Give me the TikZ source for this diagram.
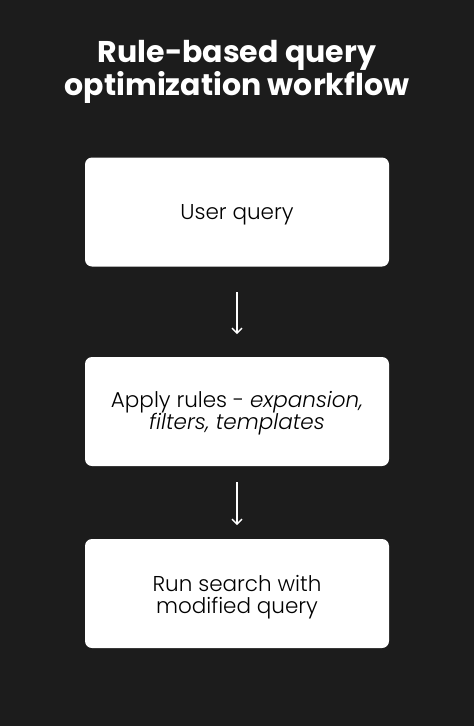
\documentclass[tikz,border=0pt]{standalone}
\usepackage{fontspec}
\setmainfont{Poppins}[FontFace={l}{n}{Poppins Light},FontFace={l}{it}{Poppins Light Italic}]
\usetikzlibrary{arrows.meta}
\definecolor{bg}{HTML}{1C1C1C}
\tikzset{
  stepbox/.style={draw=none, fill=white, rounded corners=7pt, minimum width=304pt, minimum height=109pt, inner sep=0pt},
  steptext/.style={align=center, text=black, font=\fontsize{21.5}{22}\selectfont\fontseries{l}\selectfont, inner sep=0pt},
  flowarrow/.style={draw=white, line width=1.3pt, -{Straight Barb[length=5pt,width=10pt,line width=1.3pt]}}
}
\begin{document}
\begin{tikzpicture}[x=1pt,y=1pt]
\fill[bg] (0,0) rectangle (474,-726);
\useasboundingbox (0,0) rectangle (474,-726);
\node (title) [text=white, align=center, font=\fontsize{30}{32.5}\selectfont\bfseries] at (237,-72) {Rule-based query\\optimization workflow};
\node (b1) [stepbox] at (237,-212) {};
\node (b2) [stepbox] at (237,-411.5) {};
\node (b3) [stepbox] at (237,-593.5) {};
\node (t1) [steptext] at ([yshift=-3pt]b1.center) {User query};
\node (t2) [steptext] at ([yshift=-2pt]b2.center) {Apply rules - \textit{expansion,}\\\textit{filters, templates}};
\node (t3) [steptext] at ([yshift=-3.5pt]b3.center) {Run search with\\modified query};
\coordinate (a1s) at (237,-292);
\coordinate (a1e) at (237,-334);
\coordinate (a2s) at (237,-482);
\coordinate (a2e) at (237,-525);
\draw[flowarrow] (a1s) -- (a1e);
\draw[flowarrow] (a2s) -- (a2e);
\end{tikzpicture}
\end{document}
